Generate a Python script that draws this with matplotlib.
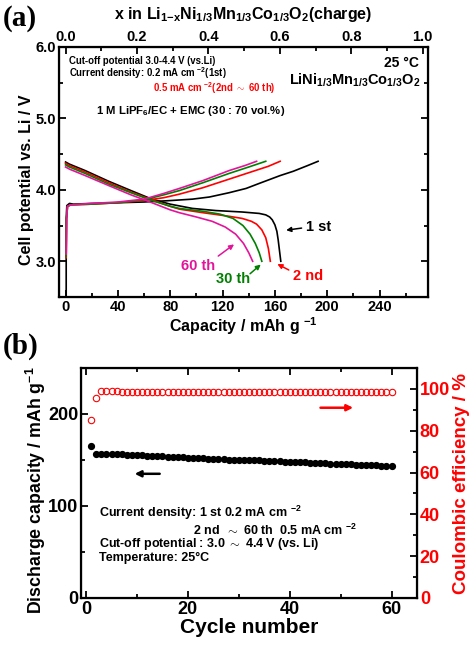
import matplotlib
matplotlib.use("Agg")
import matplotlib.pyplot as plt
from matplotlib import font_manager
from matplotlib.ticker import MultipleLocator, FormatStrFormatter

# pick a narrow bold sans if we have one
names = {f.name for f in font_manager.fontManager.ttflist}
main_font = 'Liberation Sans Narrow' if 'Liberation Sans Narrow' in names else 'Liberation Sans'
plt.rcParams['font.family'] = [main_font, 'DejaVu Sans']
plt.rcParams['font.weight'] = 'bold'
plt.rcParams['axes.labelweight'] = 'bold'
plt.rcParams['mathtext.fontset'] = 'custom'
plt.rcParams['mathtext.rm'] = main_font + ':bold'
plt.rcParams['mathtext.it'] = main_font + ':bold'
plt.rcParams['mathtext.bf'] = main_font + ':bold'

# ---- panel (a): charge / discharge curves (capacity mAh/g, voltage V) ----
c1_chg_cap = [0.5, 0.5, 1.0, 3, 6, 20, 40, 60, 80, 97, 110, 125, 138, 148, 164, 174, 185, 193]
c1_chg_v = [2.52, 3.60, 3.78, 3.81, 3.80, 3.81, 3.82, 3.83, 3.85, 3.87, 3.90, 3.96, 4.02, 4.09, 4.20, 4.26, 4.34, 4.40]
c1_dis_cap = [0, 3, 15, 33, 50, 66, 80, 97, 115, 135, 148, 153, 156, 158, 160, 161.5, 162.5, 163.5, 164.5]
c1_dis_v = [4.39, 4.36, 4.27, 4.12, 3.99, 3.87, 3.80, 3.74, 3.71, 3.69, 3.67, 3.65, 3.62, 3.58, 3.51, 3.42, 3.30, 3.15, 3.00]

c2_chg_cap = [0.5, 0.8, 1.5, 4, 20, 40, 60, 75, 87, 105, 125, 145, 155, 164]
c2_chg_v = [3.05, 3.60, 3.77, 3.79, 3.80, 3.82, 3.85, 3.89, 3.94, 4.03, 4.15, 4.27, 4.33, 4.40]
c2_dis_cap = [0, 3, 15, 33, 50, 66, 80, 87, 105, 125, 135, 142, 146, 150, 153, 155, 156.5]
c2_dis_v = [4.37, 4.34, 4.25, 4.10, 3.97, 3.86, 3.77, 3.73, 3.68, 3.63, 3.60, 3.56, 3.52, 3.44, 3.33, 3.18, 3.00]

c30_chg_cap = [0.5, 0.8, 1.5, 4, 20, 40, 60, 75, 87, 105, 125, 140, 153]
c30_chg_v = [3.07, 3.60, 3.77, 3.79, 3.80, 3.82, 3.86, 3.93, 3.99, 4.10, 4.23, 4.32, 4.40]
c30_dis_cap = [0, 3, 15, 33, 50, 66, 80, 87, 105, 118, 128, 135.6, 141, 145, 148, 150]
c30_dis_v = [4.35, 4.32, 4.23, 4.08, 3.96, 3.85, 3.77, 3.74, 3.70, 3.66, 3.60, 3.50, 3.38, 3.25, 3.12, 3.00]

c60_chg_cap = [0.5, 0.8, 1.5, 4, 20, 40, 60, 75, 87, 105, 125, 137, 146]
c60_chg_v = [3.10, 3.60, 3.77, 3.79, 3.81, 3.83, 3.87, 3.95, 4.02, 4.13, 4.27, 4.34, 4.40]
c60_dis_cap = [0, 3, 15, 33, 50, 66, 80, 87, 100, 112, 122, 130, 136, 140, 143]
c60_dis_v = [4.32, 4.29, 4.20, 4.06, 3.93, 3.82, 3.72, 3.68, 3.62, 3.56, 3.48, 3.38, 3.25, 3.12, 3.00]

# ---- panel (b): cycling ----
cycles = list(range(1, 61))
discharge_cap = [165.0, 157.0, 157.0, 156.5, 156.5, 156.0, 156.0, 155.5, 155.5, 155.0,
                 155.0, 154.5, 154.5, 154.0, 154.0, 153.5, 153.5, 153.0, 153.0, 152.5,
                 152.5, 152.0, 152.0, 151.5, 151.5, 151.0, 151.0, 150.5, 150.5, 150.0,
                 150.0, 149.5, 149.5, 149.5, 149.0, 149.0, 148.5, 148.5, 148.0, 148.0,
                 147.5, 147.5, 147.5, 147.0, 147.0, 146.5, 146.5, 146.0, 146.0, 146.0,
                 145.5, 145.5, 145.0, 145.0, 145.0, 144.5, 144.5, 144.0, 144.0, 144.0]
coulombic_eff = [85.0, 95.5, 99.0, 99.0, 99.0, 98.8, 98.6, 98.7, 98.6, 98.6,
                 98.6, 98.6, 98.6, 98.6, 98.6, 98.6, 98.6, 98.6, 98.6, 98.6,
                 98.6, 98.6, 98.6, 98.6, 98.6, 98.6, 98.6, 98.6, 98.6, 98.6,
                 98.6, 98.6, 98.6, 98.6, 98.6, 98.6, 98.6, 98.6, 98.6, 98.6,
                 98.6, 98.6, 98.6, 98.6, 98.6, 98.6, 98.6, 98.6, 98.6, 98.6,
                 98.6, 98.6, 98.6, 98.6, 98.6, 98.6, 98.6, 98.6, 98.6, 98.6]

MAG = '#e3149b'


def bold_ticks(a):
    for t in a.get_xticklabels() + a.get_yticklabels():
        t.set_fontweight('bold')


fig = plt.figure(figsize=(4.74, 6.46), dpi=100)

# ================= (a) =================
ax = fig.add_axes([59/474, 1-297/646, 369/474, 250/646])
ax.plot(c1_chg_cap, c1_chg_v, color='black', lw=1.2)
ax.plot(c1_dis_cap, c1_dis_v, color='black', lw=1.2)
ax.plot(c2_chg_cap, c2_chg_v, color='red', lw=1.2)
ax.plot(c2_dis_cap, c2_dis_v, color='red', lw=1.2)
ax.plot(c30_chg_cap, c30_chg_v, color='green', lw=1.2)
ax.plot(c30_dis_cap, c30_dis_v, color='green', lw=1.2)
ax.plot(c60_chg_cap, c60_chg_v, color=MAG, lw=1.2)
ax.plot(c60_dis_cap, c60_dis_v, color=MAG, lw=1.2)

ax.set_xlim(-5, 277)
ax.set_ylim(2.5, 6.0)
ax.xaxis.set_major_locator(MultipleLocator(40))
ax.xaxis.set_minor_locator(MultipleLocator(20))
ax.yaxis.set_major_locator(MultipleLocator(1.0))
ax.yaxis.set_minor_locator(MultipleLocator(0.5))
ax.yaxis.set_major_formatter(FormatStrFormatter('%.1f'))
ax.tick_params(which='both', direction='in', right=True, width=1.3, labelsize=10.5, pad=2)
ax.tick_params(which='major', length=5)
ax.tick_params(which='minor', length=3)
ax.set_xlabel(r'Capacity / mAh g $^{-1}$', fontsize=11.5, labelpad=1)
ax.set_ylabel('Cell potential vs. Li / V', fontsize=11.5)
ax.yaxis.set_label_coords(-0.068, 0.47)
for s in ax.spines.values():
    s.set_linewidth(1.6)
bold_ticks(ax)

ax2 = ax.twiny()
ax2.set_xlim(-5/273, 277/273)
ax2.xaxis.set_major_locator(MultipleLocator(0.2))
ax2.xaxis.set_minor_locator(MultipleLocator(0.1))
ax2.xaxis.set_major_formatter(FormatStrFormatter('%.1f'))
ax2.tick_params(which='both', direction='in', width=1.3, labelsize=10.5, pad=2)
ax2.tick_params(which='major', length=5)
ax2.tick_params(which='minor', length=3)
ax2.set_xlabel(r'x in Li$_{1\mathrm{-x}}$Ni$_{1/3}$Mn$_{1/3}$Co$_{1/3}$O$_2$(charge)', fontsize=11.5, labelpad=8)
bold_ticks(ax2)

ax.text(3, 5.80, 'Cut-off potential 3.0-4.4 V (vs.Li)', fontsize=6.9, va='center')
ax.text(3, 5.64, r'Current density: 0.2 mA cm $^{-2}$(1st)', fontsize=6.9, va='center')
ax.text(67, 5.42, r'0.5 mA cm $^{-2}$(2nd $\sim$ 60 th)', fontsize=6.9, va='center', color='red')
ax.text(23, 5.11, r'1 M LiPF$_6$/EC + EMC (30 : 70 vol.%)', fontsize=8.2, va='center')
ax.text(270, 5.78, '25 °C', fontsize=10, va='center', ha='right')
ax.text(271, 5.53, r'LiNi$_{1/3}$Mn$_{1/3}$Co$_{1/3}$O$_2$', fontsize=10.5, va='center', ha='right')

ax.annotate('', xy=(166.5, 3.43), xytext=(182.5, 3.47),
            arrowprops=dict(arrowstyle='-|>', color='black', lw=1.1, mutation_scale=7))
ax.text(184, 3.48, '1 st', fontsize=10.5, va='center')
ax.annotate('', xy=(160, 2.98), xytext=(172.5, 2.86),
            arrowprops=dict(arrowstyle='-|>', color='red', lw=1.1, mutation_scale=7))
ax.text(185, 2.80, '2 nd', fontsize=10.5, va='center', ha='center', color='red')
ax.annotate('', xy=(150.8, 2.98), xytext=(139.4, 2.80),
            arrowprops=dict(arrowstyle='-|>', color='green', lw=1.1, mutation_scale=7))
ax.text(128, 2.75, '30 th', fontsize=10.5, va='center', ha='center', color='green')
ax.annotate('', xy=(130.5, 3.26), xytext=(115, 3.05),
            arrowprops=dict(arrowstyle='-|>', color=MAG, lw=1.1, mutation_scale=7))
ax.text(101, 2.94, '60 th', fontsize=10.5, va='center', ha='center', color=MAG)

fig.text(0.006, 0.993, '(a)', family='Liberation Serif', fontsize=21, fontweight='bold', va='top')

# ================= (b) =================
bx = fig.add_axes([81/474, 1-598/646, 336/474, 230/646])
bx.plot(cycles, discharge_cap, 'o', color='black', ms=4.2, zorder=3)
bx.set_xlim(-1, 65)
bx.set_ylim(0, 250)
bx.xaxis.set_major_locator(MultipleLocator(20))
bx.xaxis.set_minor_locator(MultipleLocator(10))
bx.yaxis.set_major_locator(MultipleLocator(100))
bx.yaxis.set_minor_locator(MultipleLocator(50))
bx.tick_params(which='both', direction='in', top=True, width=1.3, labelsize=13, pad=2)
bx.tick_params(which='major', length=5)
bx.tick_params(which='minor', length=3)
bx.set_xlabel('Cycle number', fontsize=15, labelpad=0)
bx.set_ylabel(r'Discharge capacity / mAh g$^{-1}$', fontsize=12.8)
bx.yaxis.set_label_coords(-0.098, 0.47)
for s in bx.spines.values():
    s.set_linewidth(1.6)
bold_ticks(bx)

bx2 = bx.twinx()
bx2.plot(cycles, coulombic_eff, 'o', mfc='none', mec='red', mew=0.8, ms=4.6)
bx2.set_ylim(0, 110)
bx2.yaxis.set_major_locator(MultipleLocator(20))
bx2.yaxis.set_minor_locator(MultipleLocator(10))
bx2.tick_params(which='both', direction='in', width=1.3, labelsize=13, labelcolor='red', pad=2)
bx2.tick_params(which='major', length=5)
bx2.tick_params(which='minor', length=3)
bx2.set_ylabel('Coulombic efficiency / %', fontsize=13.5, color='red', labelpad=2)
bold_ticks(bx2)

bx2.annotate('', xy=(53, 91), xytext=(45.5, 91),
             arrowprops=dict(arrowstyle='-|>', color='red', lw=1.8, mutation_scale=9))
bx.annotate('', xy=(9, 135), xytext=(15, 135),
            arrowprops=dict(arrowstyle='-|>', color='black', lw=1.8, mutation_scale=9))

bx.text(2.5, 93, r'Current density: 1 st 0.2 mA cm $^{-2}$', fontsize=9, va='center')
bx.text(21, 74, r'2 nd  $\sim$ 60 th  0.5 mA cm $^{-2}$', fontsize=9, va='center')
bx.text(2.5, 59, r'Cut-off potential : 3.0 $\sim$ 4.4 V (vs. Li)', fontsize=9, va='center')
bx.text(2.5, 43, 'Temperature: 25°C', fontsize=9, va='center')

fig.text(0.006, 1-333/646, '(b)', family='Liberation Serif', fontsize=21, fontweight='bold', va='top')

fig.savefig('out.png', dpi=100)
